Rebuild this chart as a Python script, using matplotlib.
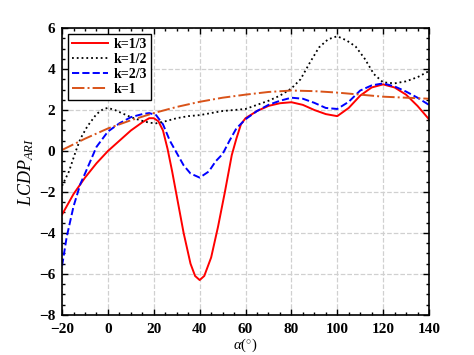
import matplotlib
matplotlib.use('Agg')
import matplotlib.pyplot as plt
from matplotlib.ticker import MultipleLocator

plt.rcParams['font.family'] = ['Liberation Serif', 'DejaVu Serif']
plt.rcParams['mathtext.fontset'] = 'custom'
plt.rcParams['mathtext.rm'] = 'Liberation Serif'
plt.rcParams['mathtext.it'] = 'Liberation Serif:italic'

# k=1/3 (red solid)
alpha_k13 = [-20, -15, -10, -5, 0, 5, 10, 15, 18, 20, 22, 24, 26, 28, 30, 33, 36, 38, 40, 42, 45, 48, 51, 54,
             56, 58, 60, 65, 70, 75, 80, 85, 90, 95, 100, 105, 110, 115, 120, 125, 130, 135, 140]
lcdp_k13 = [-3.1, -2.1, -1.3, -0.6, 0.0, 0.5, 1.0, 1.4, 1.6, 1.6, 1.45, 1.0, 0.1, -1.0, -2.2, -4.0, -5.5, -6.1, -6.3, -6.1,
            -5.2, -3.7, -2.0, -0.2, 0.6, 1.3, 1.6, 1.95, 2.2, 2.33, 2.38, 2.25, 2.0, 1.8, 1.7, 2.1, 2.7, 3.1, 3.25, 3.1,
            2.75, 2.2, 1.55]

# k=1/2 (black dotted)
alpha_k12 = [-20, -17, -14, -12, -9, -5, -2, 0, 3, 6, 10, 14, 18, 21, 25, 30, 35, 40, 50, 60, 70, 75, 80, 84, 88,
             92, 96, 100, 104, 108, 112, 116, 120, 125, 130, 135, 140]
lcdp_k12 = [-1.7, -1.0, 0.0, 0.6, 1.2, 1.8, 2.05, 2.1, 2.0, 1.85, 1.65, 1.5, 1.38, 1.35, 1.45, 1.6, 1.7, 1.75, 1.95,
            2.05, 2.45, 2.7, 3.05, 3.5, 4.3, 5.05, 5.45, 5.6, 5.4, 5.1, 4.5, 3.75, 3.35, 3.3, 3.4, 3.6, 3.9]

# k=2/3 (blue dashed)
alpha_k23 = [-20, -18, -15, -12, -10, -5, 0, 5, 10, 15, 18, 21, 24, 27, 30, 33, 36, 40, 44, 47, 50, 53, 56, 60, 65,
             70, 75, 80, 85, 90, 95, 100, 105, 110, 115, 120, 125, 130, 135, 140]
lcdp_k23 = [-5.6, -4.2, -2.7, -1.6, -1.1, 0.2, 0.95, 1.35, 1.65, 1.8, 1.85, 1.75, 1.3, 0.5, -0.1, -0.7, -1.1, -1.3,
            -1.0, -0.5, -0.15, 0.5, 1.1, 1.55, 1.95, 2.25, 2.45, 2.6, 2.55, 2.35, 2.1, 2.05, 2.4, 2.95, 3.2, 3.3, 3.15,
            2.9, 2.6, 2.25]

# k=1 (orange dash-dot)
alpha_k1 = [-20, -10, 0, 10, 20, 30, 40, 50, 60, 70, 80, 90, 100, 110, 120, 130, 140]
lcdp_k1 = [0.05, 0.6, 1.1, 1.5, 1.85, 2.15, 2.4, 2.6, 2.75, 2.88, 2.95, 2.92, 2.85, 2.75, 2.65, 2.6, 2.55]

fig = plt.figure(figsize=(4.74, 3.55), dpi=100)
ax = fig.add_axes([0.131, 0.113, 0.774, 0.808])

ax.plot(alpha_k13, lcdp_k13, '-', color='#ff0000', lw=1.4, label='k=1/3')
ax.plot(alpha_k12, lcdp_k12, ':', color='black', lw=1.3, label='k=1/2')
ax.plot(alpha_k23, lcdp_k23, '--', color='#0000ff', lw=1.4, label='k=2/3')
ax.plot(alpha_k1, lcdp_k1, '-.', color='#d95319', lw=1.4, label='k=1')

ax.set_xlim(-20, 140)
ax.set_ylim(-8, 6)
ax.xaxis.set_major_locator(MultipleLocator(20))
ax.xaxis.set_minor_locator(MultipleLocator(5))
ax.yaxis.set_major_locator(MultipleLocator(2))
ax.yaxis.set_minor_locator(MultipleLocator(0.5))
ax.tick_params(which='both', direction='in', top=True, right=True, width=1.0)
ax.tick_params(which='major', length=4, labelsize=11)
ax.tick_params(axis='x', which='major', pad=6)
ax.tick_params(axis='y', which='major', pad=5)
ax.tick_params(which='minor', length=2.5)
for lbl in ax.get_xticklabels() + ax.get_yticklabels():
    lbl.set_fontweight('bold')
for sp in ax.spines.values():
    sp.set_linewidth(1.2)

ax.grid(True, which='major', linestyle='--', color='#d0d0d0', lw=0.9)

ax.set_xlabel(r'$\alpha(^{\circ})$', fontsize=10.5, labelpad=0)
ax.set_ylabel(r'$LCDP_{ARI}$', fontsize=13, labelpad=2)

leg = ax.legend(loc='upper left', prop={'weight': 'bold', 'size': 10}, fancybox=False,
                edgecolor='black', framealpha=1, borderaxespad=0.4, handlelength=2.6,
                labelspacing=0.15, borderpad=0.3, handletextpad=0.4)
leg.get_frame().set_linewidth(1.0)

fig.savefig('out.png', dpi=100)
